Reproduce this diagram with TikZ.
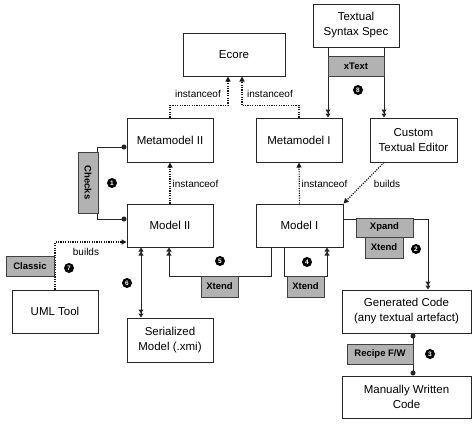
\documentclass[tikz,border=0pt]{standalone}
\usepackage{fontspec}
\setmainfont{Liberation Sans}
\usetikzlibrary{arrows.meta,calc}
\begin{document}
\begin{tikzpicture}[x=1pt,y=-1pt,
 box/.style={draw=black!85, line width=1pt, fill=white, align=center, font=\fontsize{11.5}{15}\selectfont, inner sep=0pt},
 tag/.style={draw=black!75, fill=black!30, line width=0.9pt, font=\fontsize{9.5}{11}\selectfont\bfseries, inner sep=0pt},
 num/.style={circle, fill=black, text=white, inner sep=0pt, minimum size=10pt, font=\fontsize{6.5}{6.5}\selectfont\bfseries},
 lbl/.style={font=\fontsize{10}{12}\selectfont, inner sep=0pt},
 conn/.style={line width=1pt, draw=black!85},
 inst/.style={conn, line width=1.2pt, dash pattern=on 1.2pt off 1.2pt, draw=black!90, -{Triangle[length=5pt,width=5pt]}},
 dbl/.style={conn, -{Triangle[length=4pt,width=5pt]Triangle[length=4pt,width=5pt]}},
 dbldbl/.style={conn, {Triangle[length=4pt,width=5pt]Triangle[length=4pt,width=5pt]}-{Triangle[length=4pt,width=5pt]Triangle[length=4pt,width=5pt]}},
 dots/.style={conn, {Circle[length=5pt]}-{Circle[length=5pt]}},
]
\useasboundingbox (0,0) rectangle (474,424);

% boxes
\node[box, minimum width=102, minimum height=43] (ecore) at (234,54.5) {Ecore};
\node[box, minimum width=86, minimum height=43] (tss) at (356,25.5) {Textual\\Syntax Spec};
\node[box, minimum width=86, minimum height=44] (mm2) at (170,140) {Metamodel II};
\node[box, minimum width=86, minimum height=44] (mm1) at (299,140) {Metamodel I};
\node[box, minimum width=87, minimum height=44] (cte) at (413.5,140) {Custom\\Textual Editor};
\node[box, minimum width=86, minimum height=43] (model2) at (170,225.5) {Model II};
\node[box, minimum width=87, minimum height=43] (model1) at (299.5,225.5) {Model I};
\node[box, minimum width=86, minimum height=43] (uml) at (55,311.5) {UML Tool};
\node[box, minimum width=86, minimum height=44] (ser) at (170,340) {Serialized\\Model (.xmi)};
\node[box, minimum width=129, minimum height=43] (gen) at (406.5,311.5) {Generated Code\\(any textual artefact)};
\node[box, minimum width=129, minimum height=42] (man) at (406.5,397) {Manually Written\\Code};

% connectors
\draw[inst] (mm2.north) -- ++(0,-12) -| ([xshift=-6pt]ecore.south);
\draw[inst] (mm1.north) -- ++(0,-12) -| ([xshift=8pt]ecore.south);
\draw[inst] (model2.north) -- (mm2.south);
\draw[inst] (model1.north) -- (mm1.south);
\draw[inst] ([xshift=-29.5pt]cte.south) -- (model1.north east);
\draw[inst] (uml.north) |- ([yshift=-16.5pt]model2.west);
\draw[dbl] ([xshift=-28pt]tss.south) -- ([xshift=-28pt]tss.south |- mm1.north);
\draw[dbl] ([xshift=28pt]tss.south) -- ([xshift=28pt]tss.south |- cte.north);
\draw[dots] ([yshift=-7pt]mm2.west) -- ++(-29,0) |- ([yshift=6.5pt]model2.west);
\draw[dbl] ([yshift=6.5pt]model1.east) -| ([xshift=21.5pt]gen.north);
\draw[dbl] ([xshift=-28.5pt]model1.south) -- ++(0,29) -| ([xshift=-1pt]model2.south);
\draw[dbl] ([xshift=-15.5pt]model1.south) -- ++(0,29) -| ([xshift=27.5pt]model1.south);
\draw[dbldbl] ([xshift=-29pt]model2.south) -- ([xshift=-29pt]ser.north);
\draw[dots] ([xshift=6.5pt]gen.south) -- ([xshift=6.5pt]man.north);

% connector labels
\node[lbl] (l1) at (198,94) {instanceof};
\node[lbl] (l2) at (270,94) {instanceof};
\node[lbl] (l3) at (195.5,184) {instanceof};
\node[lbl] (l4) at (324.5,184) {instanceof};
\node[lbl] (l5) at (387,184) {builds};
\node[lbl] (l6) at (86,252) {builds};

% tags
\node[tag, minimum width=61, minimum height=20, rotate=-90] (checks) at (88,182.5) {Checks};
\node[tag, minimum width=56, minimum height=20] (xtext) at (356,66) {xText};
\node[tag, minimum width=57, minimum height=19] (xpand) at (384.5,227.5) {Xpand};
\node[tag, minimum width=38, minimum height=21] (xtend2) at (384,247.5) {Xtend};
\node[tag, minimum width=37, minimum height=21] (xtend5) at (219.5,286.5) {Xtend};
\node[tag, minimum width=37, minimum height=21] (xtend4) at (305.5,286.5) {Xtend};
\node[tag, minimum width=48, minimum height=20] (classic) at (30,266) {Classic};
\node[tag, minimum width=66, minimum height=20] (recipe) at (380,354) {Recipe F/W};

% numbers
\node[num] (n1) at (112,183) {1};
\node[num] (n2) at (416,249) {2};
\node[num] (n3) at (430,354) {3};
\node[num] (n4) at (307,262) {4};
\node[num] (n5) at (220,261) {5};
\node[num] (n6) at (127,283) {6};
\node[num] (n7) at (69,268) {7};
\node[num] (n8) at (358,90) {8};
\end{tikzpicture}
\end{document}
